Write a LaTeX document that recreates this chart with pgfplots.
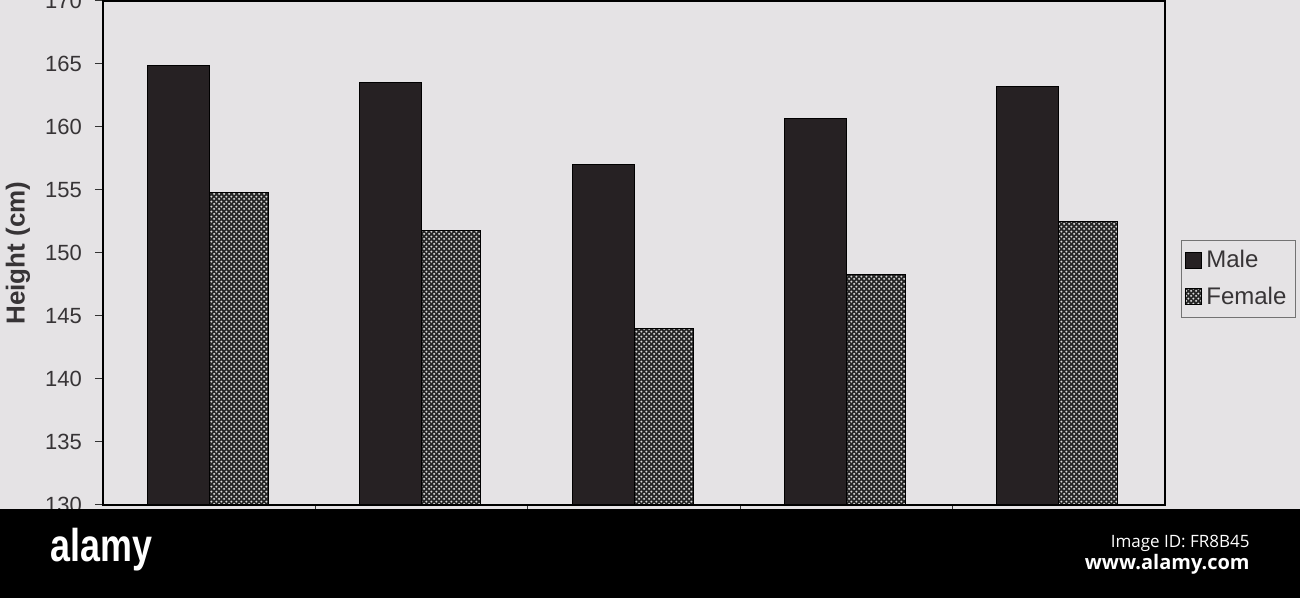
\documentclass[border=0pt]{standalone}
\usepackage{fontspec}
\setmainfont{Liberation Sans}
\newfontfamily\osans{Open Sans}
\usepackage{pgfplots}
\pgfplotsset{compat=1.18}
\usetikzlibrary{patterns,patterns.meta}
\definecolor{bg}{RGB}{229,227,229}
\definecolor{maleC}{RGB}{38,33,35}
\definecolor{txt}{RGB}{55,52,54}
\tikzdeclarepattern{name=femdots, type=uncolored,
  bottom left={(0pt,0pt)}, top right={(2.6pt,2.6pt)}, tile size={(2.6pt,2.6pt)},
  code={\fill (0.65pt,0.65pt) circle (0.62pt); \fill (1.95pt,1.95pt) circle (0.62pt);}}
\begin{document}
\begin{tikzpicture}
\path[use as bounding box] (0,0) rectangle (650pt,299pt);
\fill[bg] (0,0) rectangle (650pt,299pt);
\begin{axis}[
  scale only axis, width=531pt, height=252pt,
  at={(51.5pt,46.5pt)}, anchor=south west,
  xmin=0.5, xmax=5.5, ymin=130, ymax=170,
  ytick={130,135,...,170},
  xtick={1.5,2.5,3.5,4.5}, xticklabels={},
  ytick pos=left, xtick pos=bottom,
  tick align=outside, major tick length=4pt,
  tick style={black!80, line width=0.5pt},
  axis line style={black, line width=0.8pt},
  axis background/.style={fill=bg},
  /pgf/number format/assume math mode=true,
  yticklabel style={font=\fontsize{11}{12}\selectfont, text=txt, xshift=-3pt},
  ylabel={\bfseries Height (cm)},
  ylabel style={at={(axis description cs:-0.080,0.5)}, anchor=center, font=\fontsize{13}{14}\selectfont, text=txt},
  legend style={at={(axis description cs:1.015,0.526)}, anchor=north west, fill=bg, draw=black!55, line width=0.4pt,
    font=\fontsize{12}{13}\selectfont, text=txt, inner xsep=2pt, inner ysep=3pt, row sep=4pt, cells={anchor=west},
    text width=40.5pt},
  legend image code/.code={\draw[#1] (0pt,-4pt) rectangle (8pt,4pt);},
  clip=true,
]
\addplot[ybar, bar width=31pt, bar shift=-15.5pt, fill=maleC, draw=black, line width=0.5pt]
  coordinates {(1,164.9) (2,163.5) (3,157.0) (4,160.7) (5,163.2)};
\addlegendentry{Male}
\addplot[ybar, bar width=29.5pt, bar shift=14.75pt, draw=black, line width=0.5pt, fill=black!85,
  postaction={pattern=femdots, pattern color=white!85!black}]
  coordinates {(1,154.8) (2,151.8) (3,144.0) (4,148.3) (5,152.5)};
\addlegendentry{Female}
\end{axis}
\fill[black] (0,0) rectangle (650pt,44.5pt);
\node[anchor=base west, text=white, font=\fontsize{23}{23}\selectfont\bfseries, xscale=0.78, inner sep=0pt] at (25pt,18pt) {alamy};
\node[anchor=base east, text=white, font=\osans\fontsize{8.5}{10}\selectfont, inner sep=0pt] at (625pt,25pt) {Image ID: FR8B45};
\node[anchor=base east, text=white, font=\osans\fontsize{10}{12}\selectfont\bfseries, inner sep=0pt] at (625pt,14pt) {www.alamy.com};
\end{tikzpicture}
\end{document}
